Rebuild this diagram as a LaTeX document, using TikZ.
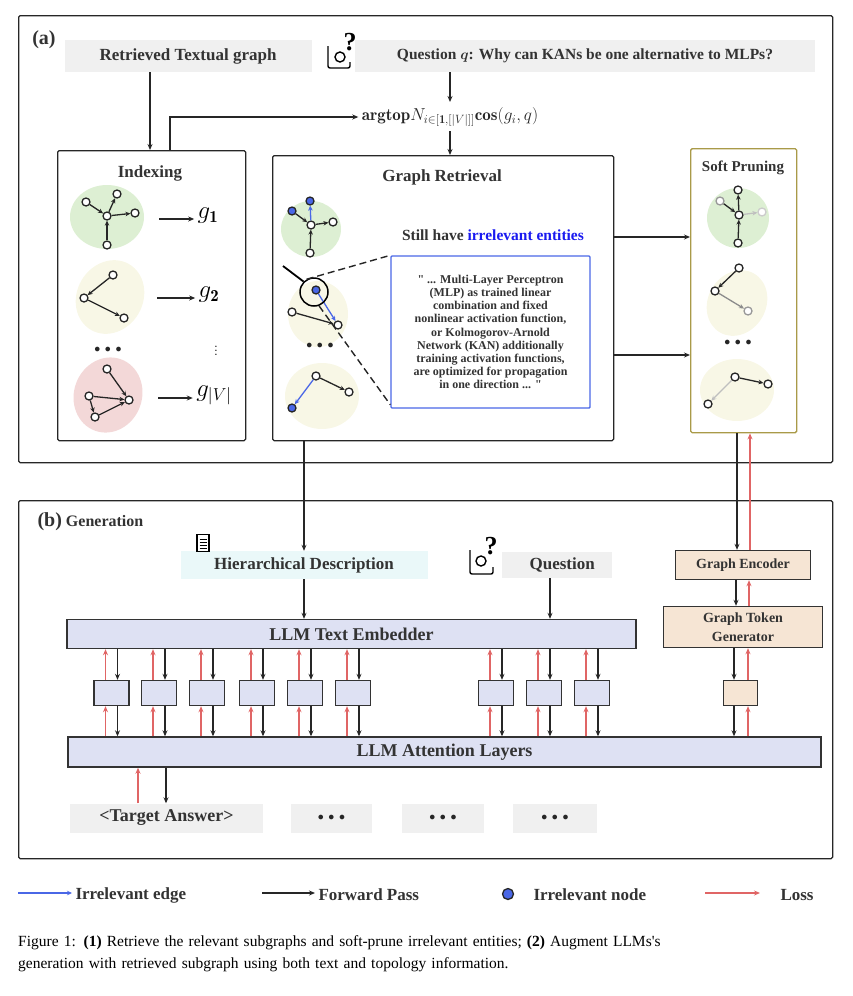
\documentclass[tikz,border=0pt]{standalone}
\usepackage{amsmath,bm}
\usepackage{fontspec}
\newfontfamily\tms{Liberation Serif}
\usetikzlibrary{arrows.meta,calc}
\definecolor{gblob}{HTML}{DDEFD3}
\definecolor{yblob}{HTML}{F8F7E6}
\definecolor{rblob}{HTML}{F3D8D8}
\definecolor{lav}{HTML}{DEE1F3}
\definecolor{peach}{HTML}{F6E5D4}
\definecolor{gbox}{HTML}{F0F0F0}
\definecolor{cbox}{HTML}{EAF8F9}
\definecolor{olive}{HTML}{A99A48}
\definecolor{qblue}{HTML}{4A67E6}
\definecolor{lossred}{HTML}{E06565}
\definecolor{ired}{HTML}{1A1AF0}
\begin{document}
\begin{tikzpicture}[x=1pt,y=-1pt,
 fw/.style={draw=black!85,line width=1.1pt,-{Stealth[length=6pt,width=5pt]}},
 ls/.style={draw=lossred,line width=1.1pt,-{Stealth[length=6pt,width=5pt]}},
 ge/.style={draw=black!85,line width=1.3pt,-{Stealth[length=5pt,width=4.5pt]}},
 be/.style={draw=qblue,line width=1.3pt,-{Stealth[length=5pt,width=4.5pt]}},
 gye/.style={draw=black!45,line width=1.3pt,-{Stealth[length=5pt,width=4.5pt]}},
 lge/.style={draw=black!25,line width=1.3pt,-{Stealth[length=5pt,width=4.5pt]}},
 gn/.style={circle,draw=black!85,fill=white,line width=1.3pt,inner sep=0pt,minimum size=8pt},
 bn/.style={gn,fill=qblue},
 gyn/.style={gn,draw=black!40},
 lgn/.style={gn,draw=black!20},
 panel/.style={draw=black!85,line width=1.3pt,rounded corners=1.5pt},
 hd/.style={font=\tms\bfseries\fontsize{17}{19}\selectfont,text=black!80},
 bt/.style={font=\tms\bfseries\fontsize{16}{18}\selectfont,text=black!80},
 dots/.style={font=\fontsize{13}{13}\selectfont,text=black!85},
 lbox/.style={draw=black!80,fill=lav,line width=1.4pt},
 pbox/.style={draw=black!80,fill=peach,line width=1.4pt},
]
\useasboundingbox (0,0) rectangle (852,996);
% ===== (a)
\node[panel,minimum width=814pt,minimum height=447pt,anchor=north west,inner sep=0pt] (A) at (18,15) {};
\node[hd,font=\tms\bfseries\fontsize{20}{20}\selectfont] (la) at (44,40) {(a)};
\node[fill=gbox,minimum width=247pt,minimum height=32pt,hd] (rtg) at (188,56) {Retrieved Textual graph};
\node[fill=gbox,minimum width=460pt,minimum height=32pt,font=\tms\bfseries\fontsize{15.5}{17}\selectfont,text=black!80] (q) at (585,56) {Question $\bm{q}$: Why can KANs be one alternative to MLPs?};
% question icon
\node[font=\tms\bfseries\fontsize{26}{26}\selectfont] (qi1) at (350,42) {?};
\node[circle,draw,line width=1.4pt,minimum size=10pt,inner sep=0pt] (qi2) at (340,57) {};
\draw[line width=1.4pt,rounded corners=2pt] (328,46) -- (328,68) -- (350,68) -- (350,62);
\node[font=\bfseries\fontsize{17}{19}\selectfont,text=black!85] (arg) at (450,117) {$\mathbf{argtop}N_{i\in[\mathbf{1},[|V|]]}\mathbf{cos}(g_i,q)$};
\node[panel,minimum width=188pt,minimum height=290pt,anchor=north west,inner sep=0pt] (idx) at (57,150) {};
\node[hd] (idxt) at (150,173) {Indexing};
\node[panel,minimum width=341pt,minimum height=285pt,anchor=north west,inner sep=0pt] (gr) at (272,155) {};
\node[hd] (grt) at (442,177) {Graph Retrieval};
\node[draw=olive,line width=1.4pt,rounded corners=1.5pt,minimum width=106pt,minimum height=284pt,anchor=north west,inner sep=0pt] (sp) at (690,148) {};
\node[hd,font=\tms\bfseries\fontsize{15}{17}\selectfont] (spt) at (743,168) {Soft Pruning};
% top connectors
\draw[fw] (rtg.south -| 150,0) -- (idx.north -| 150,0);
\draw[fw] (idx.north -| 170,0) -- (170,117) -- (arg.west);
\draw[fw] (q.south -| 450,0) -- (450,102);
\draw[fw] (450,131) -- (gr.north -| 450,0);
\node[hd,font=\tms\bfseries\fontsize{15.5}{17}\selectfont] (still) at (493,235) {Still have \textcolor{ired}{irrelevant entities}};
\draw[fw] (gr.east |- 0,237) -- (sp.west |- 0,237);
\draw[fw] (gr.east |- 0,355) -- (sp.west |- 0,355);
% quote box
\node[draw=qblue,line width=1.4pt,rounded corners=1pt,minimum width=199pt,minimum height=152pt,align=center,font=\tms\bfseries\fontsize{12}{13.2}\selectfont,text=black!80] (quote) at (490.5,332) {" ... Multi-Layer Perceptron\\(MLP) as trained linear\\combination and fixed\\nonlinear activation function,\\or Kolmogorov-Arnold\\Network (KAN) additionally\\training activation functions,\\are optimized for propagation\\in one direction ... "};
% ---- Indexing graphs
\fill[gblob] (107,217) ellipse [x radius=37,y radius=32];
\node[gn] (a1) at (86,202) {}; \node[gn] (a2) at (117,194) {}; \node[gn] (a3) at (135,213) {};
\node[gn] (a4) at (107,216) {}; \node[gn] (a5) at (107,245) {};
\draw[ge] (a1)--(a4); \draw[ge] (a4)--(a2); \draw[ge] (a4)--(a3); \draw[ge] (a5)--(a4);
\fill[yblob,rotate around={-30:(110,297)}] (110,297) ellipse [x radius=33,y radius=38];
\node[gn] (b1) at (113,275) {}; \node[gn] (b2) at (84,298) {}; \node[gn] (b3) at (124,318) {};
\draw[ge] (b1)--(b2); \draw[ge] (b2)--(b3);
\node[dots] (d1) at (108,350) {$\bullet\,\bullet\,\bullet$};
\fill[rblob,rotate around={-20:(108,395)}] (108,395) ellipse [x radius=34,y radius=38];
\node[gn] (c1) at (107,369) {}; \node[gn] (c2) at (89,396) {}; \node[gn] (c3) at (129,400) {}; \node[gn] (c4) at (95,417) {};
\draw[ge] (c1)--(c3); \draw[ge] (c2)--(c3); \draw[ge] (c4)--(c3); \draw[ge] (c2)--(c4);
\node[font=\fontsize{24}{24}\selectfont] (g1) at (208,216) {$g_{\mathbf{1}}$};
\node[font=\fontsize{24}{24}\selectfont] (g2) at (209,295) {$g_{\mathbf{2}}$};
\node[font=\fontsize{24}{24}\selectfont] (gv) at (214,395) {$g_{|V|}$};
\node[font=\fontsize{14}{14}\selectfont,inner sep=0pt] (vd) at (216,348) {$\vdots$};
\coordinate (e1) at (159,219); \coordinate (e2) at (157,298); \coordinate (e3) at (158,398);
\draw[fw] (e1) -- (g1.west|-e1); \draw[fw] (e2) -- (g2.west|-e2); \draw[fw] (e3) -- (gv.west|-e3);
% ---- Graph retrieval graphs
\fill[gblob] (311,229) ellipse [x radius=30,y radius=28];
\node[bn] (r1) at (310,201) {}; \node[bn] (r2) at (292,211) {}; \node[gn] (r3) at (311,225) {};
\node[gn] (r4) at (333,222) {}; \node[gn] (r5) at (310,253) {};
\draw[ge] (r2)--(r3); \draw[be] (r3)--(r1); \draw[ge] (r3)--(r4); \draw[ge] (r5)--(r3);
\fill[yblob] (318,314) ellipse [x radius=30,y radius=33];
\node[bn] (s1) at (316,290) {}; \node[gn] (s2) at (292,312) {}; \node[gn] (s3) at (338,325) {};
\draw[be] (s1)--(s3); \draw[ge] (s2)--(s3);
\node[circle,draw=black,line width=1.5pt,minimum size=28pt,inner sep=0pt] (mag) at (314,292) {};
\coordinate (h1) at (283,266);
\draw[line width=1.8pt] (h1) -- (mag.135);
\draw[line width=1.4pt,dash pattern=on 7pt off 4pt,black!85] (mag.120) -- (quote.north west);
\draw[line width=1.4pt,dash pattern=on 7pt off 4pt,black!85] (mag.-70) -- ($(quote.south west)+(0,-4)$);
\node[dots] (d2) at (320,346) {$\bullet\,\bullet\,\bullet$};
\fill[yblob] (322,396) ellipse [x radius=37,y radius=33];
\node[gn] (t1) at (316,376) {}; \node[gn] (t2) at (349,392) {}; \node[bn] (t3) at (292,408) {};
\draw[ge] (t1)--(t2); \draw[be] (t1)--(t3);
% ---- Soft pruning graphs
\fill[gblob] (738,218) ellipse [x radius=31,y radius=30];
\node[gn] (p1) at (738,190) {}; \node[gyn] (p2) at (720,201) {}; \node[gn] (p3) at (739,215) {};
\node[lgn] (p4) at (762,212) {}; \node[gn] (p5) at (738,243) {};
\draw[ge] (p2)--(p3); \draw[ge] (p3)--(p1); \draw[lge] (p3)--(p4); \draw[ge] (p5)--(p3);
\fill[yblob,rotate around={-30:(737,303)}] (737,303) ellipse [x radius=29,y radius=34];
\node[gn] (u1) at (739,268) {}; \node[gn] (u2) at (715,291) {}; \node[gyn] (u3) at (748,311) {};
\draw[ge] (u1)--(u2); \draw[gye] (u2)--(u3);
\node[dots] (d3) at (738,343) {$\bullet\,\bullet\,\bullet$};
\fill[yblob] (737,390) ellipse [x radius=37,y radius=31];
\node[gn] (w1) at (735,377) {}; \node[gn] (w2) at (768,384) {}; \node[gn] (w3) at (708,404) {};
\draw[ge] (w1)--(w2); \draw[lge] (w1)--(w3);
% ===== (b)
\node[panel,minimum width=814pt,minimum height=358pt,anchor=north west,inner sep=0pt] (B) at (18,500) {};
\node[bt,anchor=west] (lb) at (34,522) {{\fontsize{20}{20}\selectfont(b)} Generation};
\node[fill=cbox,minimum width=247pt,minimum height=28pt,bt,font=\tms\bfseries\fontsize{17}{19}\selectfont] (hier) at (304,565) {Hierarchical Description};
% doc icon
\node[draw,line width=1.2pt,minimum width=12pt,minimum height=17pt,inner sep=0pt] (doc) at (203,543) {};
\foreach \yy in {-4,-1,2,5}{\draw[line width=0.9pt] ($(doc.center)+(-3.5,\yy)$) -- ++(7,0);}
\node[fill=gbox,minimum width=110pt,minimum height=26pt,anchor=west,bt,font=\tms\bfseries\fontsize{17}{19}\selectfont] (ques) at (502,565) {\hspace{10pt}Question};
\node[font=\tms\bfseries\fontsize{26}{26}\selectfont] (qi3) at (491,546) {?};
\node[circle,draw,line width=1.4pt,minimum size=10pt,inner sep=0pt] (qi4) at (481,561) {};
\draw[line width=1.4pt,rounded corners=2pt] (470,550) -- (470,574) -- (493,574) -- (493,567);
\node[pbox,minimum width=135pt,minimum height=29pt,bt,font=\tms\bfseries\fontsize{14}{16}\selectfont] (genc) at (743,565) {Graph Encoder};
\node[pbox,minimum width=159pt,minimum height=41pt,align=center,bt,font=\tms\bfseries\fontsize{14}{19}\selectfont] (gtg) at (743,627) {Graph Token\\Generator};
\node[lbox,minimum width=569pt,minimum height=29pt,bt,font=\tms\bfseries\fontsize{18}{20}\selectfont] (emb) at (351.5,634) {LLM Text Embedder};
\node[lbox,minimum width=753pt,minimum height=30pt,bt,font=\tms\bfseries\fontsize{18}{20}\selectfont] (att) at (444.5,752) {LLM Attention Layers};
\draw[fw] (gr.south -| 304,0) -- (hier.north -| 304,0);
\draw[fw] (hier.south -| 304,0) -- (emb.north -| 304,0);
\draw[fw] (ques.south -| 550,0) -- (emb.north -| 550,0);
\draw[fw] (sp.south -| 737,0) -- (genc.north -| 737,0);
\draw[ls] (genc.north -| 750,0) -- (sp.south -| 750,0);
\draw[fw] (genc.south -| 736,0) -- (gtg.north -| 736,0);
\draw[ls] (gtg.north -| 749,0) -- (genc.south -| 749,0);
\foreach \cx [count=\k] in {111.5,159,207,257,305,353,496,544,592}{
  \node[lbox,minimum width=35pt,minimum height=25pt,inner sep=0pt] (m\k) at (\cx,693) {};
  \draw[fw] (emb.south -| {\cx+6},0) -- (m\k.north -| {\cx+6},0);
  \draw[fw] (m\k.south -| {\cx+6},0) -- (att.north -| {\cx+6},0);
  \draw[ls] (att.north -| {\cx-6},0) -- (m\k.south -| {\cx-6},0);
  \draw[ls] (m\k.north -| {\cx-6},0) -- (emb.south -| {\cx-6},0);
}
\node[pbox,minimum width=34pt,minimum height=25pt,inner sep=0pt] (mt) at (740.5,693) {};
\draw[fw] (gtg.south -| 734,0) -- (mt.north -| 734,0);
\draw[fw] (mt.south -| 734,0) -- (att.north -| 734,0);
\draw[ls] (att.north -| 748,0) -- (mt.south -| 748,0);
\draw[ls] (mt.north -| 748,0) -- (gtg.south -| 748,0);
\node[fill=gbox,minimum width=193pt,minimum height=29pt,bt,font=\tms\bfseries\fontsize{18}{20}\selectfont,text=black!80] (tans) at (166.5,818) {<Target Answer>};
\node[fill=gbox,minimum width=81pt,minimum height=29pt,dots] (x1) at (331.5,818) {$\bullet\,\bullet\,\bullet$};
\node[fill=gbox,minimum width=82pt,minimum height=29pt,dots] (x2) at (443,818) {$\bullet\,\bullet\,\bullet$};
\node[fill=gbox,minimum width=84pt,minimum height=29pt,dots] (x3) at (555,818) {$\bullet\,\bullet\,\bullet$};
\draw[fw] (att.south -| 166,0) -- (tans.north -| 166,0);
\draw[ls] (tans.north -| 138,0) -- (att.south -| 138,0);
% ===== legend
\coordinate (l1a) at (18,893); \coordinate (l1b) at (72,893);
\draw[be,line width=1.2pt] (l1a) -- (l1b);
\node[bt,anchor=west,font=\tms\bfseries\fontsize{17}{19}\selectfont] (lt1) at (72,895) {Irrelevant edge};
\coordinate (l2a) at (262,893); \coordinate (l2b) at (315,893);
\draw[fw] (l2a) -- (l2b);
\node[bt,anchor=west,font=\tms\bfseries\fontsize{17}{19}\selectfont] (lt2) at (315,895) {Forward Pass};
\node[bn,minimum size=11pt] (ldot) at (508,894) {};
\node[bt,anchor=west,font=\tms\bfseries\fontsize{17}{19}\selectfont] (lt3) at (530,895) {Irrelevant node};
\coordinate (l4a) at (705,893); \coordinate (l4b) at (760,893);
\draw[ls] (l4a) -- (l4b);
\node[bt,anchor=west,font=\tms\bfseries\fontsize{17}{19}\selectfont] (lt4) at (777,895) {Loss};
% caption
\node[anchor=north west,align=left,font=\tms\fontsize{15.5}{22}\selectfont,text width=840pt,inner sep=0pt] (cap) at (18,935) {Figure 1: \textbf{(1)} Retrieve the relevant subgraphs and soft-prune irrelevant entities; \textbf{(2)} Augment LLMs's\\generation with retrieved subgraph using both text and topology information.};
\end{tikzpicture}
\end{document}
